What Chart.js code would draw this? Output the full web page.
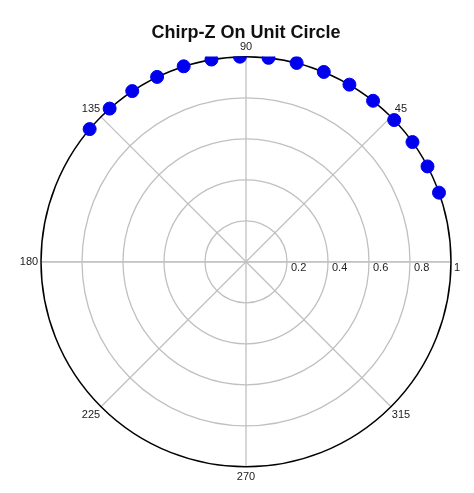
<!DOCTYPE html><html><head><meta charset="utf-8">
<script src="https://cdn.jsdelivr.net/npm/chart.js@4"></script>
<style>html,body{margin:0;padding:0;background:#fff}#w{width:474px;height:493px}</style></head>
<body><div id="w"><canvas id="c"></canvas></div>
<script>
const angleDeg = [19.7,27.7,35.7,43.7,51.7,59.7,67.7,75.7,83.7,91.7,99.7,107.7,115.7,123.7,131.7,139.7];
const radius = [1,1,1,1,1,1,1,1,1,1,1,1,1,1,1,1];
const ringTicks = [0.2,0.4,0.6,0.8,1];
const ringLabels = ['0.2','0.4','0.6','0.8','1'];
const spokeAngles = [45,90,135,180,225,270,315,0];
const spokeLabels = ['45','90','135','180','225','270','315',''];
const pts = angleDeg.map((a,i)=>({x:radius[i]*Math.cos(a*Math.PI/180), y:radius[i]*Math.sin(a*Math.PI/180)}));
const polarGrid = {id:'pg', beforeDatasetsDraw(ch){
  const c=ch.ctx, xs=ch.scales.x, ys=ch.scales.y;
  const cx=xs.getPixelForValue(0), cy=ys.getPixelForValue(0);
  const R=xs.getPixelForValue(1)-cx;
  c.save();
  c.strokeStyle='#c0c0c0'; c.lineWidth=1.3;
  ringTicks.slice(0,-1).forEach(r=>{c.beginPath();c.arc(cx,cy,r*R,0,2*Math.PI);c.stroke();});
  spokeAngles.forEach(a=>{const t=a*Math.PI/180;c.beginPath();c.moveTo(cx,cy);c.lineTo(cx+R*Math.cos(t),cy-R*Math.sin(t));c.stroke();});
  c.beginPath();c.moveTo(cx-R,cy);c.lineTo(cx+R,cy);c.stroke();
  c.strokeStyle='#000'; c.lineWidth=1.5;
  c.beginPath();c.arc(cx,cy,R,0,2*Math.PI);c.stroke();
  c.fillStyle='#222'; c.font='11px Arial';
  c.textAlign='left'; c.textBaseline='top';
  ringTicks.forEach((r,i)=>{c.fillText(ringLabels[i], cx+r*R+(i==4?3:4), cy+1);});
  c.textAlign='center'; c.textBaseline='middle';
  spokeAngles.forEach((a,i)=>{ if(!spokeLabels[i])return; const t=a*Math.PI/180; const d=R+(a%90==0?10:0);
    let x=cx+d*Math.cos(t), y=cy-d*Math.sin(t);
    if(a%90!=0){ x+= (Math.cos(t)>0?10:-10); y+= (Math.sin(t)>0?-8:8); }
    if(a==180) x-=2;
    c.fillText(spokeLabels[i], x, y);});
  c.restore();
}};
new Chart(document.getElementById('c'),{type:'scatter',
 data:{datasets:[{data:pts,backgroundColor:'#0000ee',borderColor:'#0000ee',pointRadius:6.5,pointHoverRadius:6.5}]},
 options:{responsive:true,maintainAspectRatio:false,animation:false,
  layout:{padding:{left:41,right:23,top:0,bottom:26}},
  plugins:{legend:{display:false},tooltip:{enabled:false},
   title:{display:true,text:'Chirp-Z On Unit Circle',color:'#111',font:{family:'Arial',size:18,weight:'bold'},padding:{top:22,bottom:13}}},
  scales:{x:{type:'linear',min:-1,max:1,display:false},y:{type:'linear',min:-1,max:1,display:false}}},
 plugins:[polarGrid]});
</script></body></html>
